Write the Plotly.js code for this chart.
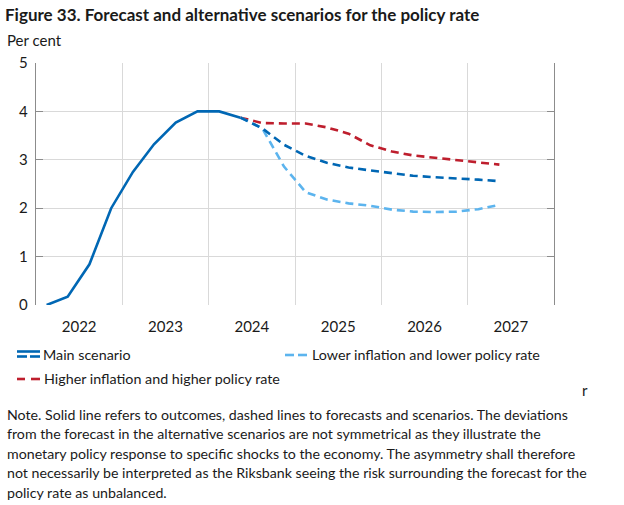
<!DOCTYPE html>
<html>
<head>
<meta charset="utf-8">
<script src="https://cdn.plot.ly/plotly-3.0.1.min.js"></script>
<style>
  html, body { margin: 0; padding: 0; background: #fff; }
  #chart { width: 624px; height: 505px; }
</style>
</head>
<body>
<div id="chart"></div>
<script>
// Policy rate, quarterly averages (per cent)
const outcomeQuarters = ['2022Q1', '2022Q2', '2022Q3', '2022Q4', '2023Q1', '2023Q2', '2023Q3', '2023Q4', '2024Q1', '2024Q2'];
const outcomeValues = [0.0, 0.17, 0.84, 2.0, 2.75, 3.32, 3.77, 4.0, 4.0, 3.87];

const forecastQuarters = ['2024Q2', '2024Q3', '2024Q4', '2025Q1', '2025Q2', '2025Q3', '2025Q4',
  '2026Q1', '2026Q2', '2026Q3', '2026Q4', '2027Q1', '2027Q2'];
const mainScenario = [3.87, 3.65, 3.31, 3.08, 2.94, 2.84, 2.78, 2.72, 2.67, 2.64, 2.62, 2.59, 2.56];
const lowerScenario = [3.87, 3.65, 2.86, 2.33, 2.18, 2.10, 2.05, 1.97, 1.93, 1.92, 1.93, 1.98, 2.07];
const higherScenario = [3.87, 3.76, 3.75, 3.75, 3.67, 3.54, 3.30, 3.17, 3.09, 3.04, 2.99, 2.95, 2.90];

const legendNames = ['Main scenario', 'Lower inflation and lower policy rate', 'Higher inflation and higher policy rate'];

const noteLines = [
  'Note. Solid line refers to outcomes, dashed lines to forecasts and scenarios. The deviations',
  'from the forecast in the alternative scenarios are not symmetrical as they illustrate the',
  'monetary policy response to specific shocks to the economy. The asymmetry shall therefore',
  'not necessarily be interpreted as the Riksbank seeing the risk surrounding the forecast for the',
  'policy rate as unbalanced.'
];

const DARK_BLUE = '#0067b4';
const LIGHT_BLUE = '#5cb4ee';
const RED = '#be1e2d';
const FONT = 'Lato, "Open Sans", sans-serif';

// quarter -> middle of the quarter as a date
function qToDate(q) {
  const year = q.slice(0, 4);
  const month = (Number(q.slice(5)) - 1) * 3 + 2;
  return year + '-' + String(month).padStart(2, '0') + '-15';
}

// plot area in pixels, used for the hand-drawn legend and notes
const W = 624, H = 505;
const M = { l: 36, r: 70, t: 63, b: 200 };
const PW = W - M.l - M.r, PH = H - M.t - M.b;
const px = x => (x - M.l) / PW;
const py = y => (H - M.b - y) / PH;

const traces = [
  {
    x: outcomeQuarters.map(qToDate), y: outcomeValues,
    type: 'scatter', mode: 'lines', name: 'Outcome',
    line: { color: DARK_BLUE, width: 2.6 }
  },
  {
    x: forecastQuarters.map(qToDate), y: higherScenario,
    type: 'scatter', mode: 'lines', name: legendNames[2],
    line: { color: RED, width: 2.6, dash: '8px,5px' }
  },
  {
    x: forecastQuarters.map(qToDate), y: lowerScenario,
    type: 'scatter', mode: 'lines', name: legendNames[1],
    line: { color: LIGHT_BLUE, width: 2.6, dash: '8px,5px' }
  },
  {
    x: forecastQuarters.map(qToDate), y: mainScenario,
    type: 'scatter', mode: 'lines', name: legendNames[0],
    line: { color: DARK_BLUE, width: 2.6, dash: '8px,5px' }
  }
];

// legend symbols
const seg = (x0, x1, y, color) => ({
  type: 'line', xref: 'paper', yref: 'paper',
  x0: px(x0), x1: px(x1), y0: py(y), y1: py(y),
  line: { color: color, width: 2.6 }
});
const shapes = [
  seg(17, 40, 351.5, DARK_BLUE),
  seg(17, 27, 356.5, DARK_BLUE), seg(30, 40, 356.5, DARK_BLUE),
  seg(285, 294, 355, LIGHT_BLUE), seg(298, 307, 355, LIGHT_BLUE),
  seg(17, 25, 379, RED), seg(31, 40, 379, RED)
];

const txt = (x, y, text, size) => ({
  xref: 'paper', yref: 'paper', x: px(x), y: py(y),
  xanchor: 'left', yanchor: 'middle', showarrow: false, align: 'left',
  text: text, font: { family: FONT, size: size, color: '#1a1a1a' }
});

const annotations = [
  txt(5, 40, 'Per cent', 15),
  txt(41, 354, legendNames[0], 14.3),
  txt(310, 354, legendNames[1], 14.3),
  txt(42, 378, legendNames[2], 14.3),
  txt(580, 390, 'r', 15)
].concat(noteLines.map((line, i) => txt(5, 414 + i * 19.5, line, 14.2)));

const layout = {
  width: W, height: H,
  margin: M,
  paper_bgcolor: '#fff',
  plot_bgcolor: '#fff',
  font: { family: FONT, size: 15, color: '#1a1a1a' },
  title: {
    text: '<b>Figure 33. Forecast and alternative scenarios for the policy rate</b>',
    font: { family: FONT, size: 17, color: '#1a1a1a' },
    xref: 'container', x: 5 / W, xanchor: 'left',
    yref: 'container', y: 1 - 15 / H, yanchor: 'middle'
  },
  xaxis: {
    type: 'date',
    range: ['2022-01-01', '2028-01-01'],
    tick0: '2022-01-01', dtick: 'M12',
    ticklabelmode: 'period',
    tickformat: '%Y',
    ticks: '',
    ticklabelstandoff: 11,
    showgrid: true, gridcolor: '#d9d9d9', gridwidth: 1,
    showline: false, zeroline: false,
    fixedrange: true
  },
  yaxis: {
    range: [0, 5], dtick: 1,
    ticks: 'inside', ticklen: 7, tickcolor: '#8c8c8c', tickwidth: 1.3,
    showline: true, linecolor: '#8c8c8c', linewidth: 1.3, mirror: 'ticks',
    showgrid: true, gridcolor: '#d9d9d9', gridwidth: 1,
    zeroline: false,
    ticklabelstandoff: 4,
    fixedrange: true
  },
  showlegend: false,
  shapes: shapes,
  annotations: annotations
};

Plotly.newPlot('chart', traces, layout, { displayModeBar: false, staticPlot: true });
</script>
</body>
</html>
